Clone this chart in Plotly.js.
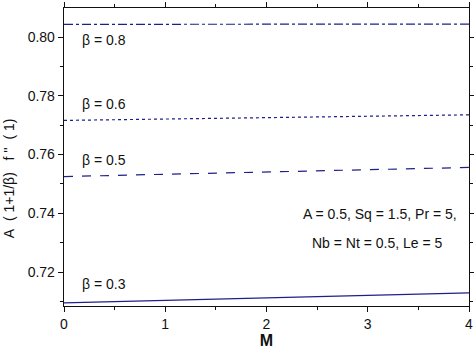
<!DOCTYPE html>
<html>
<head>
<meta charset="utf-8">
<script src="https://cdn.plot.ly/plotly-3.0.1.min.js"></script>
<style>html,body{margin:0;padding:0;background:#fff;}#chart{width:474px;height:353px;}</style>
</head>
<body>
<div id="chart"></div>
<script>
// Data
const M = [0, 1, 2, 3, 4];
const beta08 = [0.8043, 0.8043, 0.8043, 0.8043, 0.8044];
const beta06 = [0.7716, 0.7721, 0.7726, 0.7730, 0.7735];
const beta05 = [0.7525, 0.7533, 0.7541, 0.7549, 0.7556];
const beta03 = [0.7095, 0.7104, 0.7112, 0.7121, 0.7129];
const seriesNames = ['β = 0.8', 'β = 0.6', 'β = 0.5', 'β = 0.3'];
const labelY = [0.7990, 0.7773, 0.7583, 0.7159];
const paramText = ['A = 0.5, Sq = 1.5, Pr = 5,', 'Nb = Nt = 0.5, Le = 5'];
const yTitle = 'A\u00a0\u00a0(\u00a01+1/β)\u00a0\u00a0\u00a0f\u00a0\'\'\u00a0\u00a0(\u00a01)';

const color = '#1f1f8a';
const dashes = ['dashdot', 'dot', 'dash', 'solid'];
const ys = [beta08, beta06, beta05, beta03];

const traces = ys.map((y, i) => ({
  x: M, y: y, type: 'scatter', mode: 'lines', name: seriesNames[i],
  line: {color: color, width: 1.2, dash: dashes[i]}, showlegend: false
}));

const fam = 'Liberation Sans, Arial, sans-serif';
const font = {family: fam, size: 14, color: '#111'};

const annotations = seriesNames.map((t, i) => ({
  x: 0.16, y: labelY[i], xref: 'x', yref: 'y', text: t, showarrow: false,
  xanchor: 'left', yanchor: 'middle', font: {family: fam, size: 14, color: '#111'}
}));
annotations.push({
  x: 0.975, y: 0.308, xref: 'paper', yref: 'paper', text: paramText[0], showarrow: false,
  xanchor: 'right', yanchor: 'middle', font: {family: fam, size: 14, color: '#111'}
});
annotations.push({
  x: 0.94, y: 0.21, xref: 'paper', yref: 'paper', text: paramText[1], showarrow: false,
  xanchor: 'right', yanchor: 'middle', font: {family: fam, size: 14, color: '#111'}
});
annotations.push({
  x: -0.135, y: 0.43, xref: 'paper', yref: 'paper', text: yTitle, showarrow: false,
  textangle: -90, xanchor: 'center', yanchor: 'middle', font: {family: fam, size: 14, color: '#111'}
});

const layout = {
  width: 474, height: 353,
  margin: {l: 64, r: 5, t: 8, b: 47},
  paper_bgcolor: '#fff', plot_bgcolor: '#fff',
  font: font,
  xaxis: {
    range: [0, 4], dtick: 1, tick0: 0, showgrid: false, zeroline: false,
    showline: true, linecolor: '#111', linewidth: 1.3, mirror: 'ticks',
    ticks: 'outside', ticklen: 5, tickcolor: '#111', tickwidth: 1,
    minor: {dtick: 0.5, ticks: 'outside', ticklen: 3, tickcolor: '#111'},
    title: {text: '<b>M</b>', font: {family: fam, size: 16, color: '#111'}, standoff: 2},
    tickfont: {family: fam, size: 14, color: '#111'}
  },
  yaxis: {
    range: [0.70843, 0.80987], dtick: 0.02, tick0: 0.72, showgrid: false, zeroline: false,
    showline: true, linecolor: '#111', linewidth: 1.3, mirror: 'ticks',
    ticks: 'outside', ticklen: 5, tickcolor: '#111', tickwidth: 1,
    minor: {dtick: 0.01, ticks: 'outside', ticklen: 3, tickcolor: '#111'},
    tickformat: '.2f',
    tickfont: {family: fam, size: 14, color: '#111'}
  },
  annotations: annotations
};

Plotly.newPlot('chart', traces, layout, {displayModeBar: false, staticPlot: true});
</script>
</body>
</html>
